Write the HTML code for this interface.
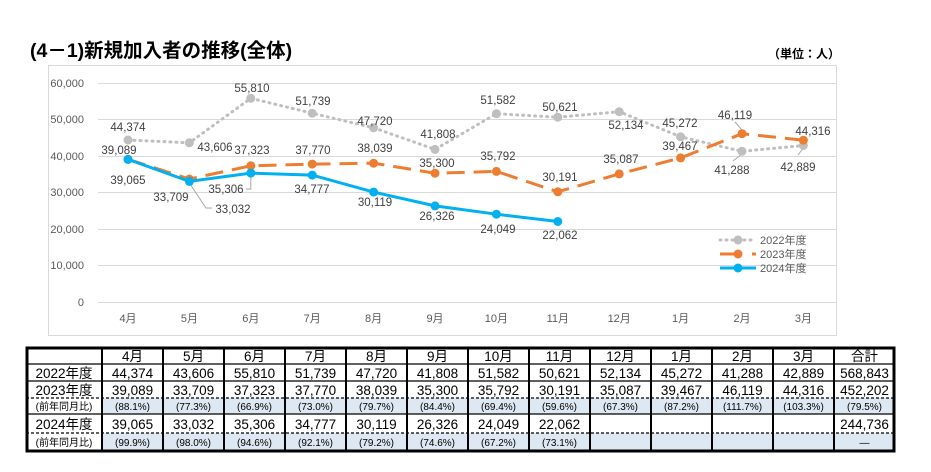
<!DOCTYPE html>
<html><head><meta charset="utf-8"><style>
body{margin:0;background:#fff;width:931px;height:472px;overflow:hidden}
svg{display:block;font-family:"Liberation Sans","Noto Sans CJK JP",sans-serif}
.ax{font-size:11px;fill:#595959}
.dl{font-size:11.5px;fill:#404040}
.tb{font-size:13.5px;fill:#000}
.tr{font-size:10px;fill:#000}
</style></head><body>
<svg width="931" height="472" viewBox="0 0 931 472">
<text x="30" y="57" font-size="19.5" font-weight="bold">(4－1)新規加入者の推移(全体)</text>
<text x="768" y="58" font-size="12" font-weight="bold">（単位：人）</text>
<rect x="48.5" y="65.5" width="788" height="270" fill="#fff" stroke="#d9d9d9"/>
<g stroke="#d9d9d9" stroke-width="1">
<line x1="98" x2="836" y1="83.5" y2="83.5"/><line x1="98" x2="836" y1="119.5" y2="119.5"/>
<line x1="98" x2="836" y1="156.5" y2="156.5"/><line x1="98" x2="836" y1="192.5" y2="192.5"/>
<line x1="98" x2="836" y1="229.5" y2="229.5"/><line x1="98" x2="836" y1="265.5" y2="265.5"/>
<line x1="98" x2="836" y1="302.5" y2="302.5"/></g>
<g class="ax" text-anchor="end">
<text x="84" y="87">60,000</text><text x="84" y="123">50,000</text><text x="84" y="160">40,000</text>
<text x="84" y="196">30,000</text><text x="84" y="233">20,000</text><text x="84" y="269">10,000</text><text x="84" y="306">0</text></g>
<g class="ax" text-anchor="middle">
<text x="128" y="322">4月</text><text x="189.4" y="322">5月</text><text x="250.8" y="322">6月</text><text x="312.2" y="322">7月</text>
<text x="373.6" y="322">8月</text><text x="435" y="322">9月</text><text x="496.4" y="322">10月</text><text x="557.8" y="322">11月</text>
<text x="619.2" y="322">12月</text><text x="680.6" y="322">1月</text><text x="742" y="322">2月</text><text x="803.4" y="322">3月</text></g>
<g stroke="#a6a6a6" stroke-width="1" fill="none">
<polyline points="189.4,183 206,208 212,208"/>
<polyline points="250.8,177 250.8,189 246,189"/>
<line x1="742" y1="130" x2="735" y2="122"/>
<line x1="742" y1="154" x2="733" y2="161"/>
<line x1="803.4" y1="148" x2="798" y2="155"/>
</g>
<polyline fill="none" stroke="#bfbfbf" stroke-width="3" stroke-dasharray="1 5" stroke-linecap="round" points="128,140 189.4,142.8 250.8,98.3 312.2,113.2 373.6,127.8 435,149.4 496.4,113.7 557.8,117.2 619.2,111.7 680.6,136.8 742,151.3 803.4,145.5"/>
<g fill="#bfbfbf"><circle cx="128" cy="140" r="4.5"/><circle cx="189.4" cy="142.8" r="4.5"/><circle cx="250.8" cy="98.3" r="4.5"/><circle cx="312.2" cy="113.2" r="4.5"/><circle cx="373.6" cy="127.8" r="4.5"/><circle cx="435" cy="149.4" r="4.5"/><circle cx="496.4" cy="113.7" r="4.5"/><circle cx="557.8" cy="117.2" r="4.5"/><circle cx="619.2" cy="111.7" r="4.5"/><circle cx="680.6" cy="136.8" r="4.5"/><circle cx="742" cy="151.3" r="4.5"/><circle cx="803.4" cy="145.5" r="4.5"/></g>
<polyline fill="none" stroke="#ed7d31" stroke-width="3" stroke-dasharray="18 9" points="128,159.3 189.4,179 250.8,165.8 312.2,164.1 373.6,163.2 435,173.2 496.4,171.4 557.8,191.8 619.2,173.9 680.6,157.9 742,133.7 803.4,140.2"/>
<g fill="#ed7d31"><circle cx="128" cy="159.3" r="4.5"/><circle cx="189.4" cy="179" r="4.5"/><circle cx="250.8" cy="165.8" r="4.5"/><circle cx="312.2" cy="164.1" r="4.5"/><circle cx="373.6" cy="163.2" r="4.5"/><circle cx="435" cy="173.2" r="4.5"/><circle cx="496.4" cy="171.4" r="4.5"/><circle cx="557.8" cy="191.8" r="4.5"/><circle cx="619.2" cy="173.9" r="4.5"/><circle cx="680.6" cy="157.9" r="4.5"/><circle cx="742" cy="133.7" r="4.5"/><circle cx="803.4" cy="140.2" r="4.5"/></g>
<polyline fill="none" stroke="#00b0f0" stroke-width="3" points="128,159.4 189.4,181.4 250.8,173.1 312.2,175.1 373.6,192.1 435,205.9 496.4,214.2 557.8,221.5"/>
<g fill="#00b0f0"><circle cx="128" cy="159.4" r="4.5"/><circle cx="189.4" cy="181.4" r="4.5"/><circle cx="250.8" cy="173.1" r="4.5"/><circle cx="312.2" cy="175.1" r="4.5"/><circle cx="373.6" cy="192.1" r="4.5"/><circle cx="435" cy="205.9" r="4.5"/><circle cx="496.4" cy="214.2" r="4.5"/><circle cx="557.8" cy="221.5" r="4.5"/></g>
<g class="dl" text-anchor="middle">
<text x="128" y="131">44,374</text><text x="215" y="151">43,606</text><text x="252" y="92">55,810</text><text x="313" y="105">51,739</text>
<text x="375" y="125">47,720</text><text x="438" y="138">41,808</text><text x="498" y="104">51,582</text><text x="560" y="111">50,621</text>
<text x="626" y="129">52,134</text><text x="680" y="127">45,272</text><text x="732" y="174">41,288</text><text x="798" y="171">42,889</text>
<text x="119" y="154">39,089</text><text x="171" y="201">33,709</text><text x="252" y="154">37,323</text><text x="313" y="154">37,770</text>
<text x="375" y="152">38,039</text><text x="437" y="167">35,300</text><text x="498" y="160">35,792</text><text x="560" y="181">30,191</text>
<text x="621" y="163">35,087</text><text x="680" y="150">39,467</text><text x="735" y="119">46,119</text><text x="813" y="135">44,316</text>
<text x="128" y="184">39,065</text><text x="233" y="213">33,032</text><text x="226" y="193">35,306</text><text x="312" y="193">34,777</text>
<text x="375" y="206">30,119</text><text x="437" y="220">26,326</text><text x="498" y="233">24,049</text><text x="560" y="239">22,062</text></g>
<line x1="720" x2="756" y1="240" y2="240" stroke="#bfbfbf" stroke-width="3" stroke-dasharray="1 5" stroke-linecap="round"/><circle cx="738" cy="240" r="4.5" fill="#bfbfbf"/>
<line x1="720" x2="742" y1="254" y2="254" stroke="#ed7d31" stroke-width="3"/><line x1="752" x2="756" y1="254" y2="254" stroke="#ed7d31" stroke-width="3"/><circle cx="738" cy="254" r="4.5" fill="#ed7d31"/>
<line x1="720" x2="756" y1="268" y2="268" stroke="#00b0f0" stroke-width="3"/><circle cx="738" cy="268" r="4.5" fill="#00b0f0"/>
<g class="ax"><text x="760" y="244">2022年度</text><text x="760" y="258">2023年度</text><text x="760" y="272">2024年度</text></g>
<rect x="102" y="398" width="793" height="16" fill="#dde8f3"/>
<rect x="102" y="433" width="793" height="18" fill="#dde8f3"/>
<g stroke="#000" stroke-width="1.2">
<line x1="26" x2="895" y1="364" y2="364"/><line x1="26" x2="895" y1="381" y2="381"/>
<line x1="26" x2="895" y1="414" y2="414"/></g>
<g stroke="#000" stroke-width="1.3" stroke-dasharray="3 2">
<line x1="26" x2="895" y1="398" y2="398"/><line x1="26" x2="895" y1="433" y2="433"/></g>
<g stroke="#000" stroke-width="2">
<line x1="102" x2="102" y1="347" y2="451"/><line x1="163" x2="163" y1="347" y2="451"/><line x1="224" x2="224" y1="347" y2="451"/>
<line x1="285" x2="285" y1="347" y2="451"/><line x1="346" x2="346" y1="347" y2="451"/><line x1="407" x2="407" y1="347" y2="451"/>
<line x1="468" x2="468" y1="347" y2="451"/><line x1="529" x2="529" y1="347" y2="451"/><line x1="590" x2="590" y1="347" y2="451"/>
<line x1="651" x2="651" y1="347" y2="451"/><line x1="712" x2="712" y1="347" y2="451"/><line x1="773" x2="773" y1="347" y2="451"/>
<line x1="834" x2="834" y1="347" y2="451"/></g>
<rect x="27" y="348" width="867" height="103" fill="none" stroke="#000" stroke-width="3"/>
<g class="tb" text-anchor="middle">
<text x="132.5" y="361">4月</text><text x="193.5" y="361">5月</text><text x="254.5" y="361">6月</text><text x="315.5" y="361">7月</text><text x="376.5" y="361">8月</text><text x="437.5" y="361">9月</text><text x="498.5" y="361">10月</text><text x="559.5" y="361">11月</text><text x="620.5" y="361">12月</text><text x="681.5" y="361">1月</text><text x="742.5" y="361">2月</text><text x="803.5" y="361">3月</text><text x="864.5" y="361">合計</text>
<text x="64" y="378">2022年度</text>
<text x="132.5" y="378">44,374</text><text x="193.5" y="378">43,606</text><text x="254.5" y="378">55,810</text><text x="315.5" y="378">51,739</text><text x="376.5" y="378">47,720</text><text x="437.5" y="378">41,808</text><text x="498.5" y="378">51,582</text><text x="559.5" y="378">50,621</text><text x="620.5" y="378">52,134</text><text x="681.5" y="378">45,272</text><text x="742.5" y="378">41,288</text><text x="803.5" y="378">42,889</text><text x="864.5" y="378">568,843</text>
<text x="64" y="395">2023年度</text>
<text x="132.5" y="395">39,089</text><text x="193.5" y="395">33,709</text><text x="254.5" y="395">37,323</text><text x="315.5" y="395">37,770</text><text x="376.5" y="395">38,039</text><text x="437.5" y="395">35,300</text><text x="498.5" y="395">35,792</text><text x="559.5" y="395">30,191</text><text x="620.5" y="395">35,087</text><text x="681.5" y="395">39,467</text><text x="742.5" y="395">46,119</text><text x="803.5" y="395">44,316</text><text x="864.5" y="395">452,202</text>
<text x="64" y="429">2024年度</text>
<text x="132.5" y="429">39,065</text><text x="193.5" y="429">33,032</text><text x="254.5" y="429">35,306</text><text x="315.5" y="429">34,777</text><text x="376.5" y="429">30,119</text><text x="437.5" y="429">26,326</text><text x="498.5" y="429">24,049</text><text x="559.5" y="429">22,062</text><text x="864.5" y="429">244,736</text></g>
<g class="tr" text-anchor="middle">
<text x="64" y="410">(前年同月比)</text>
<text x="132.5" y="410">(88.1%)</text><text x="193.5" y="410">(77.3%)</text><text x="254.5" y="410">(66.9%)</text><text x="315.5" y="410">(73.0%)</text><text x="376.5" y="410">(79.7%)</text><text x="437.5" y="410">(84.4%)</text><text x="498.5" y="410">(69.4%)</text><text x="559.5" y="410">(59.6%)</text><text x="620.5" y="410">(67.3%)</text><text x="681.5" y="410">(87.2%)</text><text x="742.5" y="410">(111.7%)</text><text x="803.5" y="410">(103.3%)</text><text x="864.5" y="410">(79.5%)</text>
<text x="64" y="446">(前年同月比)</text>
<text x="132.5" y="446">(99.9%)</text><text x="193.5" y="446">(98.0%)</text><text x="254.5" y="446">(94.6%)</text><text x="315.5" y="446">(92.1%)</text><text x="376.5" y="446">(79.2%)</text><text x="437.5" y="446">(74.6%)</text><text x="498.5" y="446">(67.2%)</text><text x="559.5" y="446">(73.1%)</text><text x="864.5" y="446">—</text></g>
</svg>
</body></html>
